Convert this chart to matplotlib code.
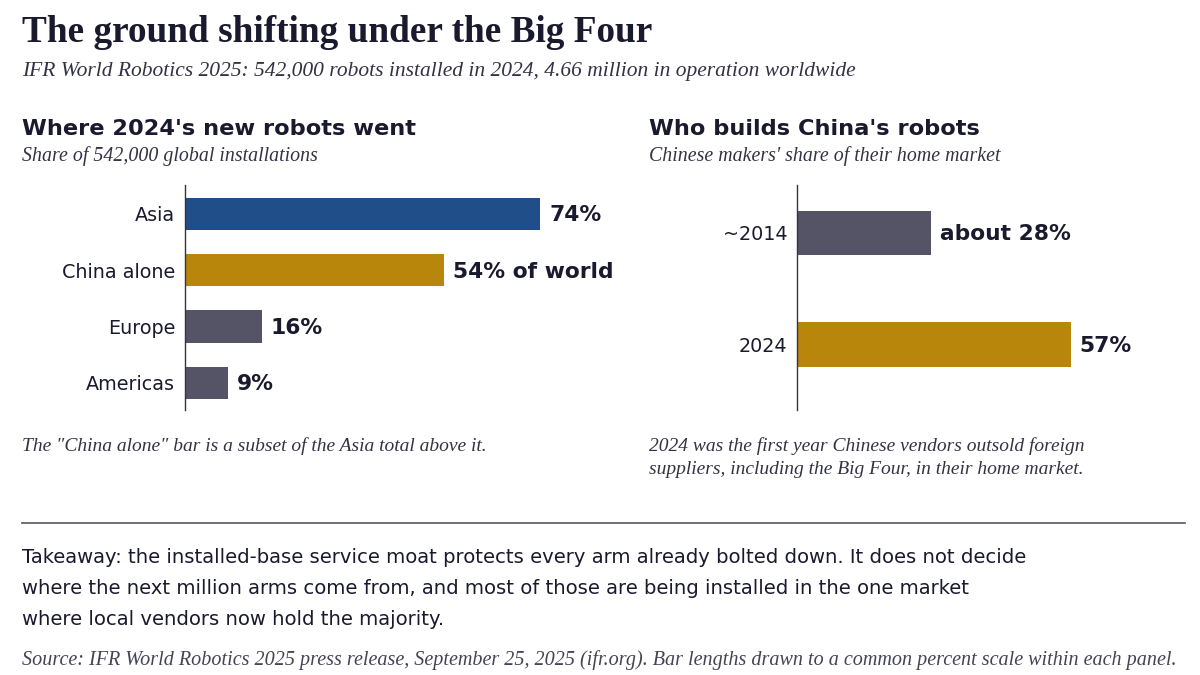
import matplotlib
matplotlib.use("Agg")
import matplotlib.pyplot as plt

# data
regioes = ["Asia", "China alone", "Europe", "Americas"]
share_regioes = [74, 54, 16, 9]
rotulos_regioes = ["74%", "54% of world", "16%", "9%"]

anos = ["~2014", "2024"]
share_china = [28, 57]
rotulos_china = ["about 28%", "57%"]

AZUL = "#1f4e89"
OURO = "#b8860b"
CINZA = "#555466"
TEXTO = "#1a1a2e"
SERIF = ["Liberation Serif", "DejaVu Serif"]
SANS = ["DejaVu Sans"]

W, H = 1200, 675
fig = plt.figure(figsize=(12, 6.75), dpi=100)
fig.patch.set_facecolor("white")

def px(x, y):
    return x / W, 1 - y / H

def texto(x, y, s, **kw):
    fx, fy = px(x, y)
    fig.text(fx, fy, s, va="baseline", ha="left", **kw)

# cabecalho
texto(22, 42, "The ground shifting under the Big Four", family=SERIF,
      fontsize=26.8, fontweight="bold", color=TEXTO)
texto(22, 76, "IFR World Robotics 2025: 542,000 robots installed in 2024, 4.66 million in operation worldwide",
      family=SERIF, fontsize=15.5, style="italic", color="#333344")

# titulos dos paineis
texto(22, 135, "Where 2024's new robots went", family=SANS, fontsize=16.2,
      fontweight="bold", color=TEXTO)
texto(22, 161, "Share of 542,000 global installations", family=SERIF,
      fontsize=14.3, style="italic", color="#333344")
texto(649, 135, "Who builds China's robots", family=SANS, fontsize=16.2,
      fontweight="bold", color=TEXTO)
texto(649, 161, "Chinese makers' share of their home market", family=SERIF,
      fontsize=14.3, style="italic", color="#333344")

PX_POR_PCT = 4.8
XMAX = 80

def painel(x0, nomes, valores, rotulos, cores, ylim, altura):
    esq, baixo = px(x0, 410)
    larg = XMAX * PX_POR_PCT / W
    alt = 225 / H
    ax = fig.add_axes([esq, baixo, larg, alt])
    pos = list(range(len(nomes)))
    ax.barh(pos, valores, height=altura, color=cores)
    for p, v, r in zip(pos, valores, rotulos):
        ax.annotate(r, (v, p), xytext=(6.5, -1), textcoords="offset points",
                    va="center", ha="left", fontsize=15.7, fontweight="bold",
                    color=TEXTO, family=SANS)
    ax.set_yticks(pos)
    ax.set_yticklabels(nomes, fontsize=13.8, color=TEXTO, family=SANS)
    ax.tick_params(axis="y", length=0, pad=7)
    ax.set_xticks([])
    ax.set_xlim(0, XMAX)
    ax.set_ylim(*ylim)
    for lado in ["top", "right", "bottom"]:
        ax.spines[lado].set_visible(False)
    ax.spines["left"].set_color("#333344")
    ax.spines["left"].set_linewidth(1)
    ax.set_facecolor("none")
    return ax

painel(185, regioes, share_regioes, rotulos_regioes, [AZUL, OURO, CINZA, CINZA],
       (3.48, -0.51), 0.57)
painel(797, anos, share_china, rotulos_china, [CINZA, OURO], (1.59, -0.43), 0.4)

# notas
texto(22, 451, 'The "China alone" bar is a subset of the Asia total above it.',
      family=SERIF, fontsize=14, style="italic", color="#333344")
texto(649, 451, "2024 was the first year Chinese vendors outsold foreign",
      family=SERIF, fontsize=14, style="italic", color="#333344")
texto(649, 474, "suppliers, including the Big Four, in their home market.",
      family=SERIF, fontsize=14, style="italic", color="#333344")

# linha divisoria
fig.add_artist(plt.Line2D([22 / W, 1185 / W], [1 - 523 / H, 1 - 523 / H],
                          color="#555466", linewidth=1.2))

takeaway = ["Takeaway: the installed-base service moat protects every arm already bolted down. It does not decide",
            "where the next million arms come from, and most of those are being installed in the one market",
            "where local vendors now hold the majority."]
for i, linha in enumerate(takeaway):
    texto(22, 563 + 31 * i, linha, family=SANS, fontsize=14.1, color=TEXTO)

texto(22, 665, "Source: IFR World Robotics 2025 press release, September 25, 2025 (ifr.org). Bar lengths drawn to a common percent scale within each panel.",
      family=SERIF, fontsize=14.5, style="italic", color="#444455")

fig.savefig("out.png", dpi=100, facecolor="white")
